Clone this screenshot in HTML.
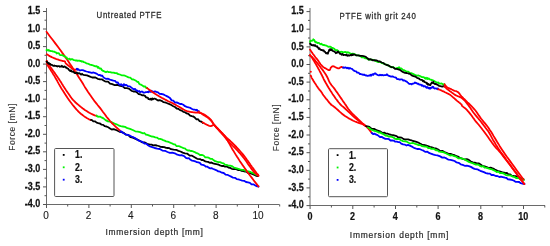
<!DOCTYPE html>
<html><head><meta charset="utf-8"><style>
html,body{margin:0;padding:0;background:#fff;width:550px;height:246px;overflow:hidden}
svg{display:block}
.yt{font-family:"Liberation Sans",Arial,sans-serif;font-weight:bold;font-size:11px;fill:#111;stroke:#111;stroke-width:0.25px}
.xt{font-family:"Liberation Sans",Arial,sans-serif;font-size:10px;fill:#1a1a1a;stroke:#1a1a1a;stroke-width:0.12px}
.xtb{font-family:"Liberation Sans",Arial,sans-serif;font-weight:bold;font-size:10.6px;fill:#111;stroke:#111;stroke-width:0.2px}
.ti{font-family:"Liberation Sans",Arial,sans-serif;font-size:8.9px;fill:#2e2e2e;stroke:#2e2e2e;stroke-width:0.3px}
.al{font-family:"Liberation Sans",Arial,sans-serif;font-size:9.6px;fill:#2e2e2e;stroke:#2e2e2e;stroke-width:0.25px}
.aly{font-family:"Liberation Sans",Arial,sans-serif;font-size:9.6px;fill:#333;stroke:#333;stroke-width:0.12px}
.lg{font-family:"Liberation Sans",Arial,sans-serif;font-weight:bold;font-size:10.2px;fill:#111;stroke:#111;stroke-width:0.2px}
</style></head><body>
<svg width="550" height="246" viewBox="0 0 550 246"><path d="M46.5 8V204.5M46.0 204.5H279.5" stroke="#6a6a6a" stroke-width="1" fill="none"/>
<path d="M43.0 11.5H46.5M44.5 20.2H46.5M43.0 29.0H46.5M44.5 37.8H46.5M43.0 46.6H46.5M44.5 55.3H46.5M43.0 64.1H46.5M44.5 72.9H46.5M43.0 81.6H46.5M44.5 90.4H46.5M43.0 99.2H46.5M44.5 108.0H46.5M43.0 116.7H46.5M44.5 125.5H46.5M43.0 134.3H46.5M44.5 143.1H46.5M43.0 151.8H46.5M44.5 160.6H46.5M43.0 169.4H46.5M44.5 178.1H46.5M43.0 186.9H46.5M44.5 195.7H46.5M43.0 204.5H46.5M46.5 204.5V208.0M67.7 204.5V206.5M88.9 204.5V208.0M110.1 204.5V206.5M131.3 204.5V208.0M152.5 204.5V206.5M173.7 204.5V208.0M194.9 204.5V206.5M216.1 204.5V208.0M237.3 204.5V206.5M258.5 204.5V208.0M279.7 204.5V206.5" stroke="#555" stroke-width="1" fill="none"/>
<text transform="translate(40.2 14.1) scale(0.82 1)" class="yt" text-anchor="end">1.5</text>
<text transform="translate(40.2 31.6) scale(0.82 1)" class="yt" text-anchor="end">1.0</text>
<text transform="translate(40.2 49.2) scale(0.82 1)" class="yt" text-anchor="end">0.5</text>
<text transform="translate(40.2 66.7) scale(0.82 1)" class="yt" text-anchor="end">0.0</text>
<text transform="translate(40.2 84.2) scale(0.82 1)" class="yt" text-anchor="end">-0.5</text>
<text transform="translate(40.2 101.8) scale(0.82 1)" class="yt" text-anchor="end">-1.0</text>
<text transform="translate(40.2 119.3) scale(0.82 1)" class="yt" text-anchor="end">-1.5</text>
<text transform="translate(40.2 136.9) scale(0.82 1)" class="yt" text-anchor="end">-2.0</text>
<text transform="translate(40.2 154.4) scale(0.82 1)" class="yt" text-anchor="end">-2.5</text>
<text transform="translate(40.2 172.0) scale(0.82 1)" class="yt" text-anchor="end">-3.0</text>
<text transform="translate(40.2 189.5) scale(0.82 1)" class="yt" text-anchor="end">-3.5</text>
<text transform="translate(40.2 207.1) scale(0.82 1)" class="yt" text-anchor="end">-4.0</text>
<text x="46.1" y="219.0" class="xt" text-anchor="middle">0</text>
<text x="88.5" y="219.0" class="xt" text-anchor="middle">2</text>
<text x="130.9" y="219.0" class="xt" text-anchor="middle">4</text>
<text x="173.3" y="219.0" class="xt" text-anchor="middle">6</text>
<text x="215.7" y="219.0" class="xt" text-anchor="middle">8</text>
<text x="258.1" y="219.0" class="xt" text-anchor="middle">10</text>
<text transform="translate(96.6 18.3) scale(0.88 1)" class="ti" textLength="73.64" lengthAdjust="spacing">Untreated PTFE</text>
<path d="M310.0 8V205.5M309.5 205.5H545" stroke="#6a6a6a" stroke-width="1" fill="none"/>
<path d="M306.5 11.6H310M308.0 20.4H310M306.5 29.2H310M308.0 38.0H310M306.5 46.9H310M308.0 55.7H310M306.5 64.5H310M308.0 73.3H310M306.5 82.1H310M308.0 91.0H310M306.5 99.8H310M308.0 108.6H310M306.5 117.4H310M308.0 126.2H310M306.5 135.0H310M308.0 143.9H310M306.5 152.7H310M308.0 161.5H310M306.5 170.3H310M308.0 179.1H310M306.5 187.9H310M308.0 196.8H310M306.5 205.6H310M310.1 205.5V209.0M331.4 205.5V207.5M352.8 205.5V209.0M374.1 205.5V207.5M395.5 205.5V209.0M416.8 205.5V207.5M438.1 205.5V209.0M459.5 205.5V207.5M480.8 205.5V209.0M502.2 205.5V207.5M523.5 205.5V209.0M544.8 205.5V207.5" stroke="#555" stroke-width="1" fill="none"/>
<text transform="translate(303.7 14.2) scale(0.82 1)" class="yt" text-anchor="end">1.5</text>
<text transform="translate(303.7 31.8) scale(0.82 1)" class="yt" text-anchor="end">1.0</text>
<text transform="translate(303.7 49.5) scale(0.82 1)" class="yt" text-anchor="end">0.5</text>
<text transform="translate(303.7 67.1) scale(0.82 1)" class="yt" text-anchor="end">0.0</text>
<text transform="translate(303.7 84.7) scale(0.82 1)" class="yt" text-anchor="end">-0.5</text>
<text transform="translate(303.7 102.4) scale(0.82 1)" class="yt" text-anchor="end">-1.0</text>
<text transform="translate(303.7 120.0) scale(0.82 1)" class="yt" text-anchor="end">-1.5</text>
<text transform="translate(303.7 137.6) scale(0.82 1)" class="yt" text-anchor="end">-2.0</text>
<text transform="translate(303.7 155.3) scale(0.82 1)" class="yt" text-anchor="end">-2.5</text>
<text transform="translate(303.7 172.9) scale(0.82 1)" class="yt" text-anchor="end">-3.0</text>
<text transform="translate(303.7 190.5) scale(0.82 1)" class="yt" text-anchor="end">-3.5</text>
<text transform="translate(303.7 208.2) scale(0.82 1)" class="yt" text-anchor="end">-4.0</text>
<text transform="translate(309.9 220.0) scale(0.85 1)" class="xtb" text-anchor="middle">0</text>
<text transform="translate(352.6 220.0) scale(0.85 1)" class="xtb" text-anchor="middle">2</text>
<text transform="translate(395.3 220.0) scale(0.85 1)" class="xtb" text-anchor="middle">4</text>
<text transform="translate(437.9 220.0) scale(0.85 1)" class="xtb" text-anchor="middle">6</text>
<text transform="translate(480.6 220.0) scale(0.85 1)" class="xtb" text-anchor="middle">8</text>
<text transform="translate(523.3 220.0) scale(0.85 1)" class="xtb" text-anchor="middle">10</text>
<text transform="translate(339.6 18.7) scale(0.88 1)" class="ti" textLength="86.59" lengthAdjust="spacing">PTFE with grit 240</text>
<text transform="translate(105.5 234.6) scale(0.88 1)" class="al" textLength="110.57" lengthAdjust="spacing">Immersion depth [mm]</text>
<text transform="translate(349.8 237.8) scale(0.88 1)" class="al" textLength="111.93" lengthAdjust="spacing">Immersion depth [mm]</text>
<text transform="translate(14.6 150.8) rotate(-90) scale(0.88 1)" class="aly" textLength="53.64" lengthAdjust="spacing">Force [mN]</text>
<text transform="translate(278.8 151.2) rotate(-90) scale(0.88 1)" class="aly" textLength="53.07" lengthAdjust="spacing">Force [mN]</text>
<rect x="54.6" y="148.5" width="59.4" height="48" rx="1" fill="#fff" stroke="#555" stroke-width="1"/>
<rect x="62.8" y="154.0" width="1.8" height="1.8" fill="#000"/>
<text transform="translate(75.1 158.3) scale(0.86 1)" class="lg">1.</text>
<rect x="62.8" y="166.4" width="1.8" height="1.8" fill="#00f400"/>
<text transform="translate(75.1 170.70000000000002) scale(0.86 1)" class="lg">2.</text>
<rect x="62.8" y="178.8" width="1.8" height="1.8" fill="#0000ff"/>
<text transform="translate(75.1 183.10000000000002) scale(0.86 1)" class="lg">3.</text>
<rect x="328.5" y="148.7" width="59" height="48" rx="1" fill="#fff" stroke="#555" stroke-width="1"/>
<rect x="336.7" y="154.2" width="1.8" height="1.8" fill="#000"/>
<text transform="translate(349.0 158.5) scale(0.86 1)" class="lg">1.</text>
<rect x="336.7" y="166.6" width="1.8" height="1.8" fill="#00f400"/>
<text transform="translate(349.0 170.9) scale(0.86 1)" class="lg">2.</text>
<rect x="336.7" y="179.0" width="1.8" height="1.8" fill="#0000ff"/>
<text transform="translate(349.0 183.3) scale(0.86 1)" class="lg">3.</text>
<path d="M46.7 61.0 L46.8 61.4 L46.8 62.0 L46.9 62.6 L47.0 63.3 L47.2 64.1 L47.4 64.8 L47.7 65.5 L48.2 66.2 L48.7 67.0 L49.2 67.8 L49.7 68.5 L50.2 69.3 L50.7 70.1 L51.1 70.8 L51.6 71.6 L52.1 72.3 L52.6 73.1 L53.1 74.0 L53.7 74.9 L54.3 75.9 L54.9 76.9 L55.5 78.0 L56.1 79.0 L56.7 80.0 L57.3 81.0 L57.8 82.1 L58.4 83.1 L58.9 84.1 L59.5 85.1 L60.0 86.0 L60.5 86.8 L60.8 87.4 L61.2 88.0 L61.6 88.7 L62.1 89.5 L62.8 90.5 L63.6 91.8 L64.5 93.2 L65.5 94.8 L66.6 96.5 L67.8 98.3 L69.0 100.0 L70.3 101.8 L71.8 103.7 L73.3 105.7 L74.9 107.6 L76.4 109.4 L77.9 111.0 L79.3 112.4 L80.8 113.7 L82.2 114.8 L83.6 115.9 L84.8 116.8 L86.0 117.6 L87.1 118.3 L88.1 118.8 L89.0 119.3 L89.8 119.6 L90.5 119.9 L91.0 120.1" stroke="#ff0000" stroke-width="1.8" fill="none" stroke-linejoin="round" stroke-linecap="round"/>
<path d="M91.0 119.9 L92.0 120.1 L93.3 121.3 L94.9 121.3 L96.6 122.6 L98.3 123.1 L100.0 123.5 L101.6 124.7 L103.2 124.9 L104.8 126.2 L106.5 126.5 L108.2 127.3 L110.0 128.4 L111.8 129.5 L113.7 129.2 L115.6 129.8 L117.6 130.8 L119.6 131.8 L121.7 132.1 L123.8 132.9 L126.0 134.7 L128.1 134.8 L130.4 137.1 L132.7 137.6 L135.0 138.6 L137.3 139.6 L139.7 140.8 L142.0 142.3 L144.5 142.4 L147.1 143.8 L150.0 144.7 L151.6 144.7 L153.2 145.3 L155.0 145.1 L156.8 145.5 L158.7 146.0 L160.6 146.9 L162.4 147.0 L164.3 147.2 L166.1 147.9 L167.8 148.0 L169.4 148.2 L171.0 149.2 L173.7 149.7 L176.1 149.8 L178.4 150.9 L180.5 151.5 L182.7 152.6 L185.0 153.3 L187.4 153.7 L189.7 155.6 L192.1 155.7 L194.6 157.2 L197.2 158.8 L200.0 159.1 L201.5 160.0 L203.0 159.9 L204.7 161.1 L206.3 161.7 L208.0 161.9 L209.7 162.8 L211.4 162.5 L213.1 163.4 L214.9 163.8 L216.6 164.2 L218.3 164.5 L220.0 165.4 L221.7 166.0 L223.4 165.9 L225.0 166.6 L226.7 166.3 L228.4 167.5 L230.1 167.9 L231.8 168.8 L233.5 169.1 L235.1 168.9 L236.8 169.4 L238.4 170.2 L240.0 169.9 L241.7 170.9 L243.3 171.1 L245.1 171.5 L246.8 172.0 L248.5 173.4 L250.2 173.1 L251.8 173.8 L253.4 174.4 L256.1 175.8 L258.0 176.0" stroke="#000000" stroke-width="1.8" fill="none" stroke-linejoin="round" stroke-linecap="round"/>
<path d="M46.7 61.0 L46.9 61.3 L47.1 61.8 L47.4 62.3 L47.8 63.0 L48.2 63.6 L48.6 64.3 L49.1 65.0 L49.6 65.8 L50.2 66.7 L50.8 67.5 L51.4 68.4 L52.0 69.2 L52.6 70.0 L53.1 70.8 L53.7 71.5 L54.2 72.3 L54.8 73.1 L55.4 74.0 L56.1 75.0 L56.8 76.0 L57.5 77.0 L58.2 78.1 L58.9 79.1 L59.5 80.0 L60.0 80.8 L60.5 81.5 L60.9 82.1 L61.3 82.7 L61.7 83.4 L62.2 84.2 L62.7 85.0 L63.2 85.9 L63.8 86.8 L64.4 87.7 L65.1 88.8 L65.9 90.0 L66.9 91.4 L68.0 93.1 L69.2 94.8 L70.4 96.6 L71.7 98.3 L73.0 99.8 L74.3 101.2 L75.6 102.5 L77.0 103.7 L78.4 104.9 L79.7 106.0 L81.1 107.1 L82.5 108.2 L83.9 109.2 L85.2 110.2 L86.6 111.1 L88.0 112.0 L89.3 112.8 L90.7 113.5 L92.1 114.2 L93.5 114.8 L94.7 115.3 L95.8 115.7 L96.6 116.0" stroke="#ff0000" stroke-width="1.8" fill="none" stroke-linejoin="round" stroke-linecap="round"/>
<path d="M96.6 115.5 L96.9 116.0 L97.1 116.1 L97.5 116.5 L98.1 116.5 L98.9 116.8 L100.0 116.5 L101.5 117.4 L103.5 118.4 L105.6 120.1 L107.9 121.4 L110.2 121.6 L112.4 122.6 L114.5 123.5 L116.5 124.3 L118.5 125.3 L120.6 126.2 L122.8 126.5 L125.0 126.9 L127.4 128.2 L130.0 128.9 L132.7 130.0 L135.3 131.3 L137.8 131.7 L140.0 132.2 L141.8 132.9 L143.1 133.4 L144.4 133.0 L145.7 134.5 L147.5 134.9 L150.0 135.9 L151.6 136.5 L153.3 136.6 L155.3 137.3 L157.2 137.7 L158.7 138.9 L160.1 138.8 L161.6 139.3 L163.1 140.1 L164.6 140.6 L166.1 141.4 L167.6 141.6 L169.1 142.2 L170.7 142.9 L172.1 143.4 L173.6 144.3 L175.0 144.4 L176.4 146.0 L177.8 146.2 L179.2 146.2 L180.7 146.9 L182.1 147.5 L183.5 148.1 L184.9 148.4 L186.4 149.8 L187.8 150.5 L189.2 150.4 L190.6 151.0 L192.0 151.0 L194.1 151.8 L196.1 152.9 L198.1 153.6 L200.0 155.0 L201.8 154.9 L203.6 155.5 L205.3 157.3 L207.0 157.4 L208.7 157.7 L210.3 158.8 L211.9 158.8 L213.5 160.1 L215.1 161.2 L216.7 161.7 L218.4 162.1 L220.0 162.2 L221.7 162.9 L223.4 163.3 L225.0 164.6 L226.7 164.8 L228.4 165.7 L230.1 165.7 L231.8 166.1 L233.5 167.3 L235.1 168.0 L236.8 168.4 L238.4 168.8 L240.0 169.4 L241.7 169.8 L243.3 169.8 L245.1 170.7 L246.8 171.1 L248.5 171.3 L250.2 171.8 L251.8 172.7 L253.4 173.2 L256.1 174.6 L258.0 175.0" stroke="#00f400" stroke-width="1.8" fill="none" stroke-linejoin="round" stroke-linecap="round"/>
<path d="M46.5 31.8 L48.0 33.8 L50.2 36.7 L52.8 40.0 L55.5 43.6 L58.1 47.0 L60.3 50.0 L62.1 52.6 L63.8 54.9 L65.3 57.1 L66.9 59.3 L68.4 61.6 L70.0 64.0 L71.8 66.6 L73.6 69.4 L75.5 72.2 L77.4 75.0 L79.1 77.7 L80.6 80.0 L81.9 82.0 L83.0 83.8 L83.9 85.4 L84.8 86.9 L85.8 88.4 L86.8 90.0 L87.9 91.7 L89.1 93.4 L90.2 95.1 L91.4 96.8 L92.6 98.5 L93.7 100.0 L94.7 101.4 L95.7 102.6 L96.7 103.8 L97.6 105.0 L98.7 106.3 L100.0 107.9 L101.4 109.8 L103.0 112.0 L104.8 114.3 L106.5 116.7 L108.3 118.9 L110.0 121.0 L111.8 123.0 L113.8 124.9 L115.8 126.8 L117.6 128.5 L119.2 129.9 L120.3 131.0" stroke="#ff0000" stroke-width="1.8" fill="none" stroke-linejoin="round" stroke-linecap="round"/>
<path d="M120.3 131.5 L121.4 131.5 L122.8 132.8 L124.5 133.8 L126.4 134.7 L128.3 135.0 L130.0 135.7 L131.6 136.5 L133.3 137.2 L135.0 138.0 L136.7 139.2 L138.3 140.4 L140.0 141.1 L141.6 141.5 L143.1 142.6 L144.7 143.7 L146.3 143.7 L148.0 145.3 L150.0 146.5 L152.2 147.2 L154.6 148.0 L157.2 148.6 L159.8 149.0 L162.4 150.6 L165.0 150.8 L167.5 152.0 L169.9 152.8 L172.3 152.7 L174.8 153.3 L177.3 154.7 L180.0 155.3 L181.4 155.1 L182.9 155.6 L184.4 156.3 L185.9 157.8 L187.4 158.4 L188.9 158.2 L190.5 159.8 L192.1 160.6 L193.6 160.9 L195.2 161.3 L196.8 162.2 L198.3 162.4 L199.8 162.9 L201.3 164.7 L202.8 164.9 L204.3 165.4 L205.7 166.5 L207.2 166.6 L208.7 167.7 L210.2 168.3 L211.8 168.2 L213.3 169.0 L215.0 169.7 L216.6 170.3 L218.3 171.4 L220.1 171.7 L221.9 172.7 L223.7 173.0 L225.6 174.7 L227.4 174.8 L229.3 175.7 L231.2 176.6 L233.1 177.7 L234.9 177.8 L236.7 179.1 L238.5 179.3 L240.3 180.0 L242.2 180.7 L244.1 180.8 L246.0 182.0 L248.0 182.4 L249.9 182.8 L251.6 184.4 L253.4 184.3 L254.9 185.2 L256.3 186.0 L258.5 186.5" stroke="#0000ff" stroke-width="1.8" fill="none" stroke-linejoin="round" stroke-linecap="round"/>
<path d="M46.5 61.6 L46.8 61.5 L47.2 62.2 L47.7 62.7 L48.3 63.5 L48.9 63.0 L49.4 64.0 L49.9 63.8 L50.5 64.1 L51.0 65.0 L51.6 64.8 L52.2 65.0 L52.8 65.5 L53.5 65.9 L54.3 65.4 L55.1 65.9 L55.9 65.9 L56.7 66.1 L57.4 66.5 L58.0 66.2 L58.6 66.2 L59.2 66.1 L59.7 66.7 L60.2 66.3 L60.8 66.5 L61.4 66.7 L61.9 65.8 L62.4 66.3 L63.0 67.0 L63.6 67.0 L64.2 66.3 L64.9 66.6 L65.6 67.5 L66.4 67.5 L67.2 68.3 L68.0 68.5 L68.8 69.8 L69.5 70.4 L70.2 71.0 L70.9 70.3 L71.6 71.5 L72.4 71.8 L73.3 71.4 L74.3 72.8 L75.4 73.2 L76.6 72.4 L77.8 73.7 L79.0 73.2 L80.0 73.6 L80.8 74.5 L81.4 74.5 L82.0 73.8 L82.7 74.5 L83.6 74.9 L85.0 75.1 L87.0 75.4 L89.4 76.3 L92.2 77.5 L95.0 77.3 L97.7 78.8 L100.0 79.3 L101.9 79.3 L103.5 80.4 L105.0 81.3 L106.5 81.7 L108.1 81.7 L110.0 83.7 L112.3 84.1 L114.8 85.2 L117.5 84.8 L120.2 85.9 L122.7 86.4 L125.0 88.2 L127.0 88.2 L128.7 88.6 L130.3 89.7 L131.9 91.0 L133.4 91.5 L135.0 91.5 L136.7 92.1 L138.5 94.0 L140.3 94.3 L142.0 95.3 L143.6 95.2 L145.0 95.9 L146.1 97.4 L147.0 97.6 L147.8 97.6 L148.5 99.2 L149.2 99.1 L150.0 99.6 L150.8 98.7 L151.5 99.7 L152.2 98.4 L153.0 99.3 L153.9 98.7 L155.0 98.7 L156.4 99.4 L158.0 100.5 L159.7 100.2 L161.5 100.8 L163.3 102.1 L165.0 102.4 L166.7 103.0 L168.3 103.7 L170.0 104.3 L171.7 105.3 L173.3 106.2 L175.0 107.0 L176.7 108.5 L178.3 108.8 L180.0 110.1 L181.7 110.6 L183.3 111.8 L185.0 112.2 L186.7 113.4 L188.4 113.9 L190.1 115.7 L191.8 116.2 L193.4 116.5 L195.0 117.8 L196.5 119.3 L198.1 119.2 L199.6 121.2 L201.0 121.5 L202.2 122.4 L203.0 123.0" stroke="#000000" stroke-width="1.8" fill="none" stroke-linejoin="round" stroke-linecap="round"/>
<path d="M46.5 50.2 L46.8 49.6 L47.1 49.8 L47.6 50.1 L48.1 50.6 L48.7 49.9 L49.4 50.8 L50.2 50.9 L51.1 51.2 L52.1 51.2 L53.2 51.6 L54.2 51.6 L55.1 52.1 L55.9 52.3 L56.7 53.5 L57.5 53.1 L58.2 53.2 L59.0 53.4 L59.7 54.8 L60.5 55.2 L61.2 55.2 L62.0 55.1 L62.7 55.4 L63.4 55.8 L64.2 56.4 L65.0 56.4 L65.7 57.2 L66.5 57.3 L67.3 58.7 L68.0 59.0 L68.8 58.8 L69.5 58.6 L70.2 59.8 L70.9 59.1 L71.6 59.4 L72.4 59.1 L73.3 59.8 L74.3 60.2 L75.4 60.5 L76.6 60.3 L77.8 60.9 L79.0 60.5 L80.0 61.1 L80.9 61.0 L81.6 61.7 L82.3 61.4 L83.0 61.5 L83.9 62.2 L85.0 62.4 L86.4 63.3 L88.1 63.7 L90.0 64.6 L91.9 65.0 L93.6 65.6 L95.0 66.3 L96.1 66.1 L97.0 66.4 L97.8 67.8 L98.4 67.0 L99.2 68.2 L100.0 68.6 L100.9 68.3 L101.8 70.0 L102.8 70.8 L103.7 71.0 L104.8 71.7 L106.0 72.2 L107.3 71.5 L108.7 72.1 L110.2 72.1 L111.8 72.6 L113.4 72.7 L115.0 73.0 L116.6 73.1 L118.3 74.1 L119.9 74.5 L121.6 75.3 L123.3 75.4 L125.0 75.7 L126.7 76.5 L128.5 77.4 L130.3 77.6 L132.0 79.3 L133.6 79.5 L135.0 80.2 L136.1 80.8 L137.0 81.6 L137.7 82.0 L138.4 82.0 L139.1 83.7 L140.0 84.3 L141.1 84.7 L142.4 85.5 L143.8 86.5 L145.1 86.4 L146.2 87.9 L147.0 88.0" stroke="#00f400" stroke-width="1.8" fill="none" stroke-linejoin="round" stroke-linecap="round"/>
<path d="M46.8 54.3 L47.3 54.6 L48.0 55.0 L48.9 55.6 L49.8 56.1 L50.8 56.6 L51.7 57.1 L52.6 57.5 L53.5 57.9 L54.5 58.3 L55.5 58.7 L56.4 59.1 L57.4 59.4 L58.4 59.7 L59.4 60.1 L60.5 60.4 L61.5 60.7 L62.4 60.9 L63.1 61.1 L63.6 61.2 L64.0 61.2 L64.2 61.2 L64.4 61.2 L64.6 61.3 L64.8 61.4 L65.0 61.6 L65.1 61.9 L65.2 62.2 L65.4 62.6 L65.6 63.0 L65.9 63.4 L66.3 63.8 L66.8 64.3 L67.4 64.7 L68.0 65.2 L68.7 65.7 L69.3 66.2 L69.9 66.7 L70.6 67.3 L71.3 67.9 L72.0 68.5 L72.7 68.9 L73.3 69.3 L73.9 69.5 L74.6 69.6 L75.3 69.6 L75.8 69.6 L76.3 69.5 L76.7 69.5" stroke="#ff0000" stroke-width="1.8" fill="none" stroke-linejoin="round" stroke-linecap="round"/>
<path d="M76.7 69.0 L77.0 68.7 L77.3 69.0 L77.7 69.7 L78.3 69.1 L79.0 69.9 L80.0 70.5 L81.3 70.1 L82.8 70.2 L84.6 70.8 L86.4 71.5 L88.3 72.0 L90.0 72.3 L91.7 72.8 L93.5 72.5 L95.3 73.2 L97.0 73.9 L98.6 75.1 L100.0 75.0 L101.1 75.9 L101.9 75.5 L102.5 76.0 L103.1 76.8 L103.9 77.8 L105.0 78.3 L106.4 78.8 L108.1 78.7 L109.9 79.6 L111.7 80.1 L113.4 80.7 L115.0 80.8 L116.4 82.5 L117.7 82.3 L118.9 84.2 L120.1 84.9 L121.1 84.2 L122.0 85.2 L122.7 85.9 L123.0 85.9 L123.3 84.9 L123.6 84.4 L124.1 84.2 L125.0 85.4 L126.3 84.9 L128.0 86.2 L129.9 86.4 L131.8 87.9 L133.5 89.3 L135.0 88.9 L136.1 90.4 L137.0 90.4 L137.8 91.3 L138.5 91.4 L139.2 91.0 L140.0 92.3 L140.8 91.9 L141.7 91.5 L142.5 91.7 L143.3 92.6 L144.2 92.6 L145.0 92.4 L145.8 92.1 L146.7 92.2 L147.5 91.8 L148.3 92.3 L149.2 90.9 L150.0 91.8 L150.8 91.8 L151.5 90.7 L152.2 91.8 L153.0 91.6 L153.9 92.0 L155.0 91.4 L156.4 91.9 L158.0 92.4 L159.7 93.9 L161.5 94.0 L163.3 94.4 L165.0 95.3 L166.7 96.1 L168.3 96.9 L170.0 98.1 L171.7 100.4 L173.3 100.7 L175.0 102.6 L176.7 102.4 L178.3 103.1 L180.0 104.0 L181.7 104.0 L183.3 104.8 L185.0 106.2 L186.7 106.8 L188.6 107.4 L190.4 107.9 L192.1 109.0 L193.7 109.7 L195.0 109.7 L196.1 110.3 L196.9 109.8 L197.6 111.0 L198.2 110.9 L198.6 111.5 L199.0 111.3" stroke="#0000ff" stroke-width="1.8" fill="none" stroke-linejoin="round" stroke-linecap="round"/>
<path d="M147.0 88.0 L147.8 88.6 L149.0 89.5 L150.4 90.5 L151.9 91.7 L153.5 92.8 L155.0 93.8 L156.6 94.8 L158.2 95.7 L159.9 96.7 L161.6 97.7 L163.3 98.6 L165.0 99.5 L166.7 100.4 L168.3 101.2 L170.0 102.0 L171.7 102.8 L173.3 103.6 L175.0 104.5 L176.7 105.5 L178.5 106.5 L180.3 107.6 L182.0 108.6 L183.6 109.5 L185.0 110.2 L186.1 110.7 L187.0 111.1 L187.8 111.3 L188.5 111.5 L189.2 111.6 L190.0 111.8 L190.8 112.0 L191.6 112.1 L192.4 112.2 L193.2 112.3 L194.1 112.4 L195.0 112.5 L196.0 112.6 L197.1 112.6 L198.2 112.7 L199.3 112.8 L200.4 113.0 L201.5 113.3 L202.6 113.8 L203.8 114.4 L205.0 115.1 L206.1 115.8 L207.1 116.6 L208.0 117.2 L208.7 117.8 L209.4 118.3 L209.9 118.8 L210.4 119.3 L210.9 119.9 L211.3 120.4 L211.7 121.0 L212.1 121.6 L212.4 122.2 L212.7 122.8 L213.1 123.4 L213.5 124.0 L214.0 124.6 L214.5 125.3 L215.1 126.0 L215.7 126.6 L216.3 127.3 L217.0 128.0 L217.7 128.7 L218.4 129.4 L219.2 130.2 L220.0 130.9 L220.7 131.6 L221.4 132.3 L222.0 132.9 L222.6 133.5 L223.1 134.1 L223.6 134.6 L224.0 135.1 L224.5 135.6 L224.9 136.0 L225.3 136.4 L225.7 136.8 L226.1 137.2 L226.5 137.6 L227.0 138.0 L227.5 138.4 L228.0 138.9 L228.5 139.3 L229.0 139.8 L229.7 140.4 L230.5 141.2 L231.5 142.1 L232.6 143.2 L233.8 144.4 L235.1 145.7 L236.4 147.0 L237.6 148.3 L238.8 149.6 L240.0 151.0 L241.3 152.5 L242.5 153.9 L243.7 155.4 L244.8 156.8 L245.9 158.2 L246.9 159.7 L247.9 161.1 L248.9 162.5 L249.8 163.8 L250.6 165.0 L251.4 166.1 L252.0 167.0 L252.7 167.8 L253.3 168.6 L253.9 169.5 L254.5 170.3 L255.2 171.2 L256.0 172.2 L256.7 173.2 L257.5 174.2 L258.1 174.9 L258.5 175.5" stroke="#ff0000" stroke-width="1.8" fill="none" stroke-linejoin="round" stroke-linecap="round"/>
<path d="M198.5 111.6 L198.8 111.8 L199.1 112.0 L199.6 112.3 L200.1 112.7 L200.8 113.1 L201.5 113.6 L202.4 114.2 L203.5 114.9 L204.7 115.6 L205.9 116.4 L207.0 117.1 L208.0 117.8 L208.8 118.4 L209.4 119.0 L210.0 119.6 L210.5 120.1 L211.0 120.6 L211.5 121.2 L212.0 121.7 L212.4 122.3 L212.7 122.8 L213.1 123.3 L213.5 123.9 L214.0 124.5 L214.6 125.2 L215.2 125.9 L215.9 126.6 L216.7 127.4 L217.4 128.1 L218.0 128.8 L218.6 129.5 L219.2 130.1 L219.8 130.7 L220.3 131.3 L220.9 131.9 L221.4 132.5 L221.9 133.1 L222.5 133.6 L223.0 134.2 L223.6 134.7 L224.1 135.3 L224.5 135.8 L224.9 136.3 L225.2 136.8 L225.5 137.2 L225.8 137.7 L226.2 138.2 L226.5 138.8 L226.9 139.4 L227.3 140.1 L227.7 140.7 L228.1 141.5 L228.5 142.2 L229.0 143.0 L229.4 143.8 L229.9 144.6 L230.3 145.5 L230.8 146.4 L231.4 147.4 L232.0 148.5 L232.7 149.7 L233.6 151.1 L234.5 152.6 L235.4 154.1 L236.3 155.6 L237.2 157.0 L238.1 158.3 L238.9 159.6 L239.7 160.9 L240.6 162.2 L241.5 163.5 L242.5 165.0 L243.6 166.6 L244.8 168.3 L246.1 170.1 L247.3 171.9 L248.7 173.7 L250.0 175.5 L251.5 177.4 L253.1 179.5 L254.7 181.7 L256.3 183.6 L257.6 185.3 L258.5 186.5" stroke="#ff0000" stroke-width="1.8" fill="none" stroke-linejoin="round" stroke-linecap="round"/>
<path d="M202.5 122.2 L202.9 122.5 L203.5 122.8 L204.2 123.2 L204.9 123.7 L205.7 124.1 L206.4 124.5 L207.1 124.8 L207.8 125.2 L208.5 125.5 L209.2 125.8 L209.9 126.0 L210.4 126.1 L210.8 126.1 L211.2 126.1 L211.5 125.9 L211.8 125.8 L212.0 125.6 L212.3 125.5 L212.6 125.4 L212.8 125.2 L213.1 125.0 L213.3 124.8 L213.6 124.8 L214.0 125.0 L214.5 125.4 L215.0 125.9 L215.6 126.6 L216.2 127.3 L216.9 128.1 L217.5 128.8 L218.1 129.5 L218.8 130.3 L219.5 131.0 L220.1 131.8 L220.8 132.5 L221.4 133.2 L222.0 133.8 L222.5 134.4 L223.1 135.0 L223.6 135.6 L224.1 136.1 L224.5 136.6 L224.9 137.1 L225.2 137.5 L225.5 137.9 L225.8 138.3 L226.1 138.7 L226.5 139.2 L226.9 139.7 L227.3 140.1 L227.7 140.6 L228.2 141.2 L228.8 141.8 L229.5 142.6 L230.4 143.5 L231.6 144.6 L232.8 145.8 L234.1 147.0 L235.4 148.3 L236.6 149.6 L237.8 150.9 L239.0 152.3 L240.3 153.7 L241.5 155.2 L242.7 156.6 L243.8 158.0 L244.9 159.4 L245.9 160.8 L246.9 162.3 L247.8 163.7 L248.7 165.0 L249.6 166.2 L250.4 167.3 L251.2 168.4 L251.9 169.4 L252.6 170.3 L253.3 171.2 L254.0 172.0 L254.8 172.8 L255.7 173.6 L256.5 174.4 L257.3 175.0 L258.0 175.6 L258.5 176.0" stroke="#ff0000" stroke-width="1.8" fill="none" stroke-linejoin="round" stroke-linecap="round"/>
<path d="M310.0 55.5 L310.2 55.8 L310.5 56.1 L310.9 56.4 L311.4 57.0 L311.9 57.6 L312.5 58.5 L313.2 59.7 L314.1 61.1 L315.0 62.7 L316.0 64.3 L316.9 66.0 L317.7 67.4 L318.4 68.7 L319.1 69.9 L319.7 71.1 L320.3 72.2 L320.9 73.3 L321.5 74.5 L322.1 75.7 L322.6 76.8 L323.2 77.9 L323.7 79.1 L324.3 80.2 L325.0 81.5 L325.7 82.8 L326.6 84.3 L327.4 85.7 L328.3 87.2 L329.1 88.6 L330.0 90.0 L330.8 91.3 L331.7 92.6 L332.5 93.9 L333.3 95.1 L334.2 96.3 L335.0 97.5 L335.8 98.7 L336.7 99.8 L337.5 100.9 L338.3 102.0 L339.2 103.0 L340.0 104.0 L340.8 104.8 L341.5 105.5 L342.2 106.1 L343.0 106.7 L343.9 107.5 L345.0 108.5 L346.4 109.8 L348.0 111.3 L349.7 112.9 L351.5 114.6 L353.3 116.3 L355.0 117.8 L356.8 119.3 L358.7 120.8 L360.6 122.2 L362.4 123.6 L363.9 124.7 L365.0 125.5" stroke="#ff0000" stroke-width="1.8" fill="none" stroke-linejoin="round" stroke-linecap="round"/>
<path d="M310.0 55.0 L310.3 55.3 L310.7 55.6 L311.1 56.1 L311.7 56.6 L312.3 57.2 L313.0 58.0 L313.8 58.9 L314.7 59.9 L315.6 61.1 L316.7 62.3 L317.7 63.6 L318.8 65.0 L320.0 66.5 L321.2 68.2 L322.6 69.9 L323.9 71.7 L325.1 73.4 L326.1 75.0 L326.9 76.5 L327.6 77.8 L328.2 79.2 L328.7 80.4 L329.3 81.7 L330.0 82.9 L330.8 84.1 L331.6 85.2 L332.4 86.2 L333.3 87.3 L334.2 88.4 L335.0 89.5 L335.8 90.7 L336.7 91.9 L337.5 93.1 L338.3 94.3 L339.2 95.5 L340.0 96.7 L340.8 97.9 L341.7 99.1 L342.5 100.4 L343.3 101.6 L344.2 102.8 L345.0 104.0 L345.8 105.1 L346.5 106.2 L347.2 107.3 L348.0 108.5 L348.9 109.7 L350.0 111.0 L351.4 112.6 L353.1 114.3 L355.0 116.2 L356.9 118.0 L358.6 119.6 L360.0 121.0 L361.2 122.1 L362.2 123.1 L363.1 123.9 L363.9 124.5 L364.5 125.1 L365.0 125.5" stroke="#ff0000" stroke-width="1.8" fill="none" stroke-linejoin="round" stroke-linecap="round"/>
<path d="M310.7 75.5 L310.9 76.0 L311.2 76.5 L311.5 77.3 L311.9 78.1 L312.4 79.0 L313.0 80.0 L313.7 81.2 L314.5 82.5 L315.5 83.9 L316.4 85.4 L317.3 86.7 L318.0 87.8 L318.6 88.6 L319.1 89.3 L319.6 89.9 L320.1 90.4 L320.5 90.9 L321.0 91.5 L321.5 92.2 L322.0 92.9 L322.4 93.7 L322.9 94.4 L323.4 95.2 L324.0 96.0 L324.6 96.8 L325.3 97.7 L326.0 98.6 L326.7 99.4 L327.4 100.2 L328.0 101.0 L328.5 101.7 L329.0 102.3 L329.5 102.9 L330.0 103.4 L330.5 104.0 L331.0 104.5 L331.5 105.0 L332.0 105.3 L332.6 105.7 L333.2 106.1 L334.0 106.7 L335.0 107.5 L336.3 108.6 L337.9 110.0 L339.6 111.6 L341.4 113.2 L343.3 114.7 L345.0 116.0 L346.7 117.1 L348.3 118.1 L350.0 119.0 L351.7 119.9 L353.3 120.7 L355.0 121.5 L356.7 122.2 L358.5 122.8 L360.2 123.4 L361.9 124.0 L363.5 124.6 L365.0 125.5 L366.4 126.6 L367.8 128.0 L369.0 129.5 L370.2 130.9 L371.1 132.1 L371.8 133.0" stroke="#ff0000" stroke-width="1.8" fill="none" stroke-linejoin="round" stroke-linecap="round"/>
<circle cx="310.8" cy="71.8" r="1" fill="#ff0000"/>
<path d="M366.0 126.2 L367.5 126.3 L369.4 126.9 L371.8 128.9 L374.4 129.0 L377.2 130.5 L378.6 130.8 L380.0 131.3 L381.5 132.3 L383.0 133.0 L384.6 132.7 L386.2 133.7 L387.9 133.7 L389.6 134.5 L391.4 134.9 L393.1 135.1 L394.9 135.6 L396.6 136.1 L398.3 137.5 L400.0 137.5 L401.6 137.6 L403.3 138.9 L404.9 139.5 L406.5 139.3 L408.1 139.4 L409.7 139.9 L411.4 140.3 L413.0 141.0 L414.7 141.3 L416.4 141.9 L418.2 142.5 L420.0 143.5 L421.9 144.5 L423.8 145.0 L425.8 145.3 L427.8 146.0 L429.9 146.8 L431.9 147.4 L434.0 148.1 L436.1 148.5 L438.2 149.5 L440.3 151.1 L442.3 150.8 L444.4 152.0 L446.4 152.9 L448.5 153.9 L450.5 153.8 L452.5 154.6 L454.6 155.2 L456.6 156.1 L458.6 156.9 L460.7 158.2 L462.7 158.8 L464.7 159.5 L466.8 159.2 L468.8 159.9 L470.8 161.5 L472.8 162.4 L474.8 162.6 L476.7 163.4 L478.7 163.4 L480.6 164.5 L482.6 165.9 L484.6 166.4 L486.7 167.2 L488.8 168.1 L490.3 167.7 L491.7 168.0 L493.2 168.6 L494.9 169.6 L496.6 170.4 L498.3 171.2 L499.7 171.5 L501.1 171.8 L502.6 172.5 L504.0 172.6 L505.5 173.2 L506.9 173.0 L508.4 174.4 L509.9 174.3 L511.7 175.7 L513.6 176.0 L515.4 176.2 L517.0 176.5 L518.6 177.2 L520.1 178.1 L521.8 178.8 L523.5 179.1" stroke="#000000" stroke-width="1.8" fill="none" stroke-linejoin="round" stroke-linecap="round"/>
<path d="M368.0 127.5 L369.2 128.0 L370.6 129.2 L372.4 130.1 L374.6 130.8 L377.1 131.6 L378.6 132.6 L380.0 132.4 L381.7 133.4 L383.5 134.2 L385.5 135.5 L387.6 135.9 L389.0 136.7 L390.5 136.7 L392.0 136.9 L393.5 137.5 L395.0 138.8 L396.6 139.0 L398.0 139.0 L399.5 139.2 L401.0 140.2 L403.0 141.1 L405.0 141.4 L406.8 141.7 L408.6 142.7 L410.3 143.5 L412.1 143.0 L413.7 143.2 L415.3 143.9 L417.0 144.4 L418.6 145.1 L420.2 144.9 L421.8 146.0 L423.4 146.3 L425.0 146.5 L426.6 146.6 L428.2 148.0 L429.8 147.8 L431.3 148.9 L432.9 148.7 L434.4 149.2 L436.0 150.4 L437.6 150.4 L439.2 151.7 L440.9 151.8 L442.6 152.0 L444.4 152.7 L446.3 153.5 L448.2 154.5 L450.1 155.5 L452.1 155.2 L454.1 156.2 L456.2 156.7 L458.3 158.4 L460.3 158.1 L462.5 158.7 L464.6 159.5 L466.7 160.6 L468.8 162.0 L470.9 162.7 L473.0 163.3 L474.5 164.2 L475.9 164.6 L477.3 164.4 L478.7 164.8 L480.2 166.2 L481.6 166.5 L483.1 166.2 L484.5 167.5 L486.0 167.7 L487.5 168.2 L489.0 168.7 L490.5 169.0 L492.0 169.4 L493.5 170.2 L495.0 170.8 L496.7 172.1 L498.3 171.6 L500.0 173.2 L501.8 172.9 L503.7 173.6 L505.5 174.8 L507.4 175.3 L509.3 175.4 L511.1 175.6 L512.9 176.6 L514.6 177.0 L516.4 178.2 L517.9 177.8 L519.3 178.4 L520.8 179.5 L522.4 178.9 L524.0 180.0" stroke="#00f400" stroke-width="1.8" fill="none" stroke-linejoin="round" stroke-linecap="round"/>
<path d="M371.8 132.9 L372.5 133.7 L373.3 134.1 L374.3 133.7 L375.7 134.3 L377.6 135.1 L380.0 137.0 L381.7 136.8 L383.3 137.9 L385.4 138.8 L387.5 138.8 L389.0 139.2 L390.5 140.5 L392.1 140.5 L393.6 140.6 L395.2 141.7 L396.8 141.7 L398.3 142.1 L399.7 142.2 L401.2 143.6 L403.1 144.4 L405.0 144.7 L406.5 145.5 L408.0 144.9 L410.4 145.9 L412.5 146.9 L414.7 148.2 L417.1 149.0 L418.5 148.9 L420.0 149.2 L421.8 150.0 L423.5 150.7 L425.5 151.9 L427.4 151.7 L429.5 153.2 L431.6 153.8 L433.0 154.4 L434.5 154.9 L435.9 155.2 L437.4 155.3 L438.8 155.8 L440.2 156.4 L442.3 157.6 L444.4 157.5 L446.4 158.4 L448.5 159.7 L450.5 159.8 L452.5 160.3 L454.6 161.0 L456.6 162.4 L458.6 162.8 L460.7 164.3 L462.7 164.9 L464.7 165.8 L466.8 165.6 L468.8 166.1 L470.9 166.9 L473.0 168.1 L474.5 168.9 L475.9 169.1 L477.4 169.3 L478.9 170.1 L480.3 170.8 L481.8 171.4 L483.9 172.2 L486.0 173.1 L487.9 173.5 L489.9 173.6 L491.5 175.0 L493.2 174.9 L495.8 176.0 L497.8 176.2 L499.4 177.0 L501.0 176.7 L502.7 177.1 L505.0 177.7 L506.5 178.0 L508.0 179.4 L509.8 179.5 L511.7 179.8 L513.6 180.5 L515.5 181.8 L517.3 181.8 L519.2 182.0 L520.7 183.2 L522.3 183.5 L524.5 184.0" stroke="#0000ff" stroke-width="1.8" fill="none" stroke-linejoin="round" stroke-linecap="round"/>
<path d="M310.0 42.0 L310.4 40.7 L310.9 40.9 L311.5 40.9 L312.1 40.6 L312.8 40.5 L313.3 39.3 L313.7 39.8 L314.1 39.9 L314.5 40.3 L314.8 41.7 L315.3 41.6 L315.8 42.4 L316.5 42.1 L317.2 43.0 L318.1 42.8 L318.9 42.9 L319.8 43.8 L320.6 44.3 L321.4 43.7 L322.2 44.6 L323.0 45.0 L323.9 44.8 L324.7 45.3 L325.5 45.4 L326.3 45.7 L327.1 46.0 L327.9 46.6 L328.8 46.9 L329.6 46.6 L330.4 46.6 L331.2 47.3 L332.0 48.2 L332.9 48.0 L333.7 48.6 L334.5 48.9 L335.3 50.1 L336.1 50.2 L336.9 50.0 L337.6 50.5 L338.4 51.3 L339.2 51.8 L340.1 52.2 L341.0 51.7 L342.1 51.8 L343.1 52.5 L344.1 52.1 L345.1 52.0 L346.0 52.1 L346.7 52.9 L347.3 52.2 L347.7 52.5 L348.3 52.4 L349.0 52.6 L350.0 53.4 L351.3 54.0 L352.9 53.7 L354.6 54.1 L356.4 55.4 L358.3 55.4 L360.0 55.7 L361.7 57.3 L363.3 57.3 L365.0 58.3 L366.7 58.4 L368.3 59.5 L370.0 59.5 L371.7 59.6 L373.3 59.8 L375.0 60.8 L376.7 61.4 L378.3 62.2 L380.0 61.7 L381.7 63.0 L383.4 63.4 L385.2 64.4 L386.9 64.7 L388.5 65.6 L390.0 66.4 L391.4 67.4 L392.7 66.8 L393.9 67.6 L395.1 68.3 L396.1 68.7 L397.0 67.9 L397.7 67.9 L398.0 68.7 L398.3 68.5 L398.6 67.8 L399.1 67.2 L400.0 68.5 L401.3 68.4 L402.8 69.8 L404.6 70.4 L406.4 71.6 L408.3 71.7 L410.0 73.2 L411.7 73.2 L413.5 74.1 L415.3 75.2 L417.0 75.7 L418.6 75.5 L420.0 76.0 L421.1 76.6 L422.1 77.1 L422.9 77.2 L423.7 77.2 L424.3 77.6 L425.0 78.4 L425.6 78.7 L426.0 77.7 L426.5 78.4 L426.9 78.7 L427.4 77.9 L428.0 79.0 L428.8 78.4 L429.7 79.3 L430.8 79.6 L431.8 80.1 L432.8 80.2 L433.7 80.7 L434.5 81.3 L435.2 81.5 L435.9 82.2 L436.6 82.4 L437.4 82.7 L438.2 82.5 L439.2 83.5 L440.4 83.6 L441.6 83.5 L442.8 84.3 L443.8 84.4 L444.5 84.2" stroke="#00f400" stroke-width="1.8" fill="none" stroke-linejoin="round" stroke-linecap="round"/>
<path d="M310.0 43.7 L310.2 43.6 L310.4 44.2 L310.7 44.0 L311.0 44.4 L311.4 45.0 L311.9 44.8 L312.4 45.3 L313.1 45.5 L313.8 44.9 L314.5 45.7 L315.2 45.1 L315.8 46.1 L316.3 46.4 L316.8 46.5 L317.2 46.3 L317.6 47.3 L318.1 47.6 L318.7 48.7 L319.4 48.2 L320.2 49.4 L321.1 50.0 L322.0 50.0 L322.8 50.6 L323.6 50.2 L324.3 51.7 L325.0 51.7 L325.7 52.9 L326.4 53.4 L327.0 52.9 L327.5 53.7 L327.9 53.7 L328.3 52.0 L328.6 51.6 L328.8 51.3 L329.1 49.9 L329.4 50.4 L329.7 49.4 L330.0 49.9 L330.3 49.1 L330.6 49.6 L331.0 50.2 L331.4 49.5 L332.0 49.9 L332.6 50.7 L333.3 51.1 L334.0 51.3 L334.7 51.9 L335.3 52.2 L335.8 53.2 L336.3 52.8 L336.8 52.9 L337.3 51.8 L337.7 52.4 L338.2 51.6 L338.7 52.3 L339.1 52.8 L339.5 52.8 L340.0 53.8 L340.5 53.8 L341.1 54.1 L341.8 54.7 L342.6 53.9 L343.5 55.2 L344.4 54.9 L345.2 54.8 L346.0 55.4 L346.7 54.8 L347.4 55.8 L348.0 55.4 L348.6 55.2 L349.3 55.7 L350.0 55.3 L350.7 54.9 L351.4 55.4 L352.1 54.3 L352.9 55.1 L353.9 54.3 L355.0 54.8 L356.4 55.4 L358.1 55.3 L360.0 55.8 L361.9 55.9 L363.6 56.1 L365.0 56.5 L366.1 57.1 L366.9 58.0 L367.5 58.2 L368.1 58.7 L368.9 59.6 L370.0 59.1 L371.4 59.6 L373.0 60.4 L374.7 60.1 L376.5 60.4 L378.3 61.3 L380.0 61.5 L381.7 62.5 L383.3 63.0 L385.0 64.2 L386.7 65.0 L388.3 65.3 L390.0 66.5 L391.7 67.1 L393.3 67.3 L395.0 68.9 L396.7 68.8 L398.3 69.3 L400.0 69.9 L401.7 71.2 L403.3 72.2 L405.0 72.8 L406.7 73.0 L408.3 73.5 L410.0 73.9 L411.7 75.4 L413.5 76.1 L415.3 76.6 L417.0 77.8 L418.6 78.3 L420.0 79.5 L421.1 79.9 L422.1 79.9 L422.9 81.2 L423.7 80.7 L424.3 81.8 L425.0 82.1 L425.6 82.3 L426.2 82.5 L426.7 83.7 L427.1 83.1 L427.6 84.0 L428.0 84.7 L428.4 84.0 L428.8 84.3 L429.2 84.9 L429.6 84.9 L429.9 85.1 L430.3 85.2 L430.7 84.1 L431.1 83.8 L431.5 83.3 L431.8 82.4 L432.2 83.0 L432.6 82.6 L433.0 82.6 L433.3 81.9 L433.6 83.2 L434.0 83.4 L434.4 83.4 L434.8 84.0 L435.3 83.9 L435.7 83.9 L436.2 84.1 L436.8 84.5 L437.5 84.6 L438.2 85.2 L439.2 85.9 L440.3 86.1 L441.6 86.5 L442.8 86.5 L443.8 86.1 L444.5 86.5" stroke="#000000" stroke-width="1.8" fill="none" stroke-linejoin="round" stroke-linecap="round"/>
<path d="M310.0 49.6 L310.3 50.1 L310.8 50.8 L311.4 51.6 L312.0 52.6 L312.6 53.5 L313.3 54.4 L314.0 55.3 L314.7 56.2 L315.4 57.2 L316.2 58.2 L317.0 59.1 L317.7 60.1 L318.4 61.1 L319.2 62.2 L319.9 63.2 L320.6 64.2 L321.4 65.2 L322.1 66.0 L322.9 66.7 L323.6 67.2 L324.4 67.7 L325.1 68.2 L325.9 68.5 L326.5 68.9 L327.1 69.3 L327.6 69.6 L328.1 69.9 L328.6 70.1 L329.0 70.2 L329.4 70.2 L329.7 70.0 L330.0 69.6 L330.2 69.1 L330.4 68.5 L330.6 68.0 L330.9 67.6 L331.2 67.3 L331.5 66.9 L331.9 66.7 L332.2 66.4 L332.6 66.3 L333.0 66.2 L333.5 66.3 L333.9 66.4 L334.5 66.7 L335.0 67.0 L335.5 67.3 L336.0 67.5 L336.5 67.7 L336.9 67.9 L337.4 68.1 L337.8 68.3 L338.3 68.4 L338.7 68.4 L339.1 68.3 L339.5 68.0 L340.0 67.7 L340.3 67.4 L340.7 67.2 L341.1 67.0 L341.5 67.0 L341.8 67.0 L342.2 67.2 L342.5 67.3 L342.8 67.4 L343.0 67.5" stroke="#ff0000" stroke-width="1.8" fill="none" stroke-linejoin="round" stroke-linecap="round"/>
<path d="M343.0 67.6 L343.4 67.4 L344.0 67.9 L344.6 67.6 L345.4 67.3 L346.2 67.8 L347.0 68.4 L347.9 67.7 L348.9 68.7 L349.9 67.9 L350.9 68.5 L352.0 68.9 L353.0 69.9 L354.0 70.7 L355.0 71.1 L356.1 71.3 L357.1 72.6 L358.1 72.6 L359.0 73.0 L359.9 74.1 L360.8 74.0 L361.6 74.3 L362.4 74.4 L363.2 74.9 L364.0 74.5 L364.7 75.1 L365.4 75.2 L366.1 75.6 L366.7 75.4 L367.3 75.9 L368.0 75.8 L368.7 75.5 L369.4 75.3 L370.1 75.6 L370.7 74.8 L371.4 75.6 L372.0 74.6 L372.5 74.3 L373.0 74.1 L373.4 74.9 L373.9 74.0 L374.4 73.6 L375.0 73.4 L375.7 73.5 L376.4 74.5 L377.2 74.7 L378.1 75.1 L379.0 75.4 L380.0 74.7 L381.0 75.3 L382.1 74.9 L383.3 75.3 L384.5 75.1 L385.8 75.2 L387.0 74.3 L388.3 75.6 L389.7 76.1 L391.1 76.7 L392.5 76.3 L393.8 77.0 L395.0 77.3 L396.0 77.6 L396.9 78.9 L397.7 79.1 L398.4 79.1 L399.2 79.5 L400.0 79.6 L400.8 79.4 L401.7 79.4 L402.5 79.6 L403.3 80.7 L404.2 80.3 L405.0 80.8 L405.8 81.4 L406.7 81.5 L407.5 82.4 L408.3 83.0 L409.2 84.0 L410.0 83.8 L410.8 83.8 L411.7 84.4 L412.5 83.6 L413.3 83.7 L414.2 83.2 L415.0 82.4 L415.8 83.0 L416.7 83.2 L417.5 83.9 L418.3 83.7 L419.2 84.5 L420.0 84.6 L420.9 84.6 L421.7 85.8 L422.6 85.3 L423.5 86.5 L424.3 86.1 L425.0 86.2 L425.6 86.7 L426.2 87.5 L426.7 87.9 L427.1 86.9 L427.6 87.6 L428.0 87.7 L428.4 88.2 L428.7 87.6 L429.0 88.1 L429.3 88.0 L429.6 88.6 L430.0 87.9 L430.4 88.6 L430.8 87.7 L431.3 87.4 L431.7 87.8 L432.2 87.4 L432.6 86.8 L433.0 87.5 L433.4 87.0 L433.8 88.0 L434.1 88.2 L434.6 88.5 L435.0 88.5 L435.5 88.3 L436.1 88.5 L436.8 88.6 L437.3 89.3 L437.8 88.4 L438.2 89.0" stroke="#0000ff" stroke-width="1.8" fill="none" stroke-linejoin="round" stroke-linecap="round"/>
<path d="M444.5 84.2 L444.7 84.5 L444.9 84.8 L445.2 85.3 L445.6 85.7 L445.9 86.1 L446.2 86.5 L446.5 86.8 L446.8 87.0 L447.0 87.2 L447.3 87.4 L447.6 87.6 L448.0 87.8 L448.4 88.0 L448.8 88.2 L449.3 88.4 L449.8 88.6 L450.3 88.8 L450.8 89.0 L451.3 89.2 L451.8 89.5 L452.4 89.8 L452.9 90.1 L453.5 90.3 L454.1 90.6 L454.7 90.8 L455.4 91.0 L456.1 91.2 L456.8 91.5 L457.5 91.8 L458.1 92.2 L458.7 92.7 L459.2 93.4 L459.7 94.0 L460.2 94.8 L460.8 95.5 L461.4 96.3 L462.1 97.0 L462.8 97.7 L463.5 98.4 L464.4 99.2 L465.3 100.1 L466.3 101.1 L467.5 102.3 L468.8 103.5 L470.2 104.9 L471.7 106.4 L473.1 107.8 L474.4 109.3 L475.6 110.8 L476.7 112.3 L477.7 113.8 L478.8 115.4 L479.9 116.9 L481.0 118.5 L482.2 120.0 L483.5 121.6 L484.8 123.1 L486.0 124.6 L487.3 126.3 L488.6 128.0 L489.8 129.9 L491.1 131.8 L492.3 133.8 L493.5 135.9 L494.8 138.0 L496.0 140.0 L497.2 142.0 L498.4 143.9 L499.6 145.9 L500.9 147.9 L502.2 149.9 L503.6 152.0 L505.1 154.2 L506.7 156.5 L508.4 158.8 L510.1 161.1 L511.8 163.5 L513.5 165.8 L515.3 168.2 L517.2 170.9 L519.1 173.5 L520.9 176.0 L522.4 178.0 L523.5 179.5" stroke="#ff0000" stroke-width="1.8" fill="none" stroke-linejoin="round" stroke-linecap="round"/>
<path d="M444.5 86.5 L444.8 86.8 L445.2 87.2 L445.7 87.7 L446.2 88.2 L446.8 88.7 L447.3 89.2 L447.8 89.6 L448.4 90.0 L448.9 90.4 L449.5 90.9 L450.1 91.3 L450.8 91.8 L451.6 92.4 L452.4 93.0 L453.3 93.6 L454.2 94.3 L455.1 94.9 L456.0 95.4 L456.9 95.8 L457.7 96.2 L458.6 96.5 L459.4 96.8 L460.2 97.1 L461.0 97.5 L461.7 98.0 L462.4 98.5 L463.0 99.0 L463.6 99.6 L464.3 100.2 L465.0 101.0 L465.8 101.9 L466.6 103.0 L467.5 104.1 L468.4 105.3 L469.2 106.4 L470.0 107.5 L470.7 108.5 L471.3 109.4 L471.9 110.4 L472.6 111.3 L473.2 112.3 L474.0 113.3 L474.9 114.4 L475.9 115.6 L476.9 116.8 L477.9 118.0 L479.0 119.3 L480.0 120.5 L481.0 121.8 L482.0 123.1 L483.0 124.4 L484.0 125.7 L484.9 126.9 L485.7 128.0 L486.4 128.9 L486.9 129.6 L487.4 130.2 L487.9 130.8 L488.4 131.5 L489.0 132.5 L489.7 133.7 L490.5 135.1 L491.3 136.6 L492.1 138.2 L493.0 139.9 L494.0 141.5 L495.0 143.1 L495.9 144.7 L496.9 146.3 L498.0 148.0 L499.3 149.9 L500.7 152.0 L502.4 154.3 L504.3 156.9 L506.3 159.7 L508.4 162.5 L510.5 165.3 L512.5 168.0 L514.6 170.9 L516.9 173.9 L519.1 177.0 L521.2 179.9 L523.0 182.3 L524.3 184.0" stroke="#ff0000" stroke-width="1.8" fill="none" stroke-linejoin="round" stroke-linecap="round"/>
<path d="M438.2 89.2 L438.7 89.4 L439.4 89.7 L440.3 90.0 L441.2 90.4 L442.0 90.8 L442.8 91.1 L443.4 91.4 L444.0 91.6 L444.5 91.9 L445.0 92.2 L445.6 92.5 L446.2 92.8 L446.9 93.2 L447.6 93.5 L448.4 93.9 L449.1 94.3 L450.0 94.8 L450.8 95.4 L451.7 96.1 L452.6 96.9 L453.6 97.8 L454.6 98.6 L455.6 99.5 L456.5 100.3 L457.4 101.1 L458.3 101.8 L459.3 102.6 L460.1 103.2 L460.8 103.9 L461.4 104.4 L461.7 104.8 L461.8 105.1 L461.8 105.3 L461.8 105.4 L461.9 105.7 L462.2 106.0 L462.7 106.4 L463.3 106.9 L464.0 107.4 L464.8 108.0 L465.5 108.6 L466.3 109.3 L467.1 110.1 L467.9 111.1 L468.8 112.1 L469.6 113.1 L470.4 114.1 L471.1 115.0 L471.7 115.8 L472.2 116.5 L472.6 117.1 L473.1 117.8 L473.7 118.6 L474.4 119.6 L475.3 120.8 L476.4 122.1 L477.6 123.5 L478.9 125.0 L480.1 126.5 L481.3 128.0 L482.4 129.5 L483.6 131.0 L484.7 132.5 L485.8 134.0 L486.9 135.5 L488.0 137.0 L489.0 138.5 L490.0 139.9 L491.0 141.3 L492.0 142.8 L493.0 144.1 L494.0 145.5 L495.0 146.7 L496.0 147.8 L497.0 148.8 L498.1 149.9 L499.3 151.3 L500.7 153.0 L502.4 155.1 L504.3 157.6 L506.3 160.2 L508.4 163.0 L510.5 165.8 L512.5 168.5 L514.6 171.3 L516.9 174.2 L519.1 177.2 L521.2 180.0 L523.0 182.3 L524.3 184.0" stroke="#ff0000" stroke-width="1.8" fill="none" stroke-linejoin="round" stroke-linecap="round"/></svg>
</body></html>
